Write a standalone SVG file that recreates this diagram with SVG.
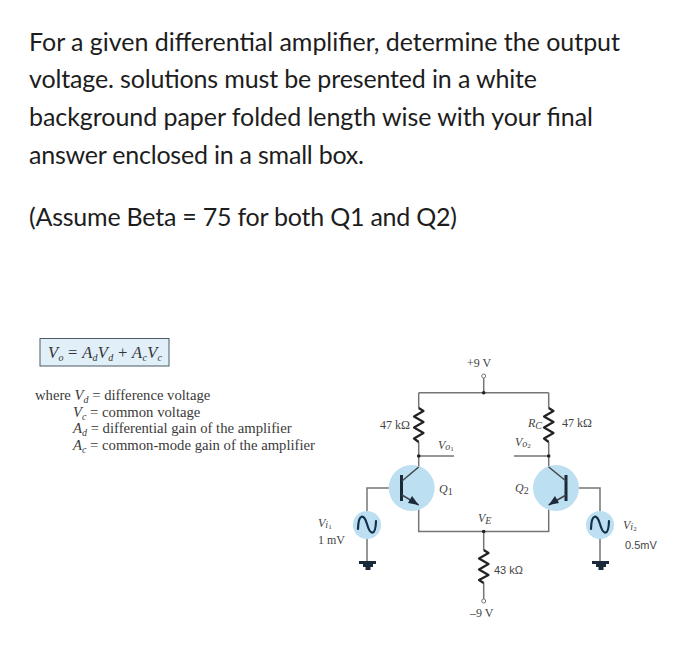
<svg xmlns="http://www.w3.org/2000/svg" width="700" height="663" viewBox="0 0 700 663">
<style>
.h{font-family:Lato,"Open Sans",sans-serif;font-size:25px;fill:#1d1d1d}
.s{font-family:"Liberation Serif",serif;font-size:14.7px;fill:#3a3a3a}
.f{font-family:"Liberation Serif",serif;font-size:16.5px;fill:#333}
.l{font-family:"Liberation Serif",serif;font-size:12px;fill:#444}
.i{font-style:italic}
.sub{font-size:10px}
.ss{font-size:7px}
.sans{font-family:"Liberation Sans",sans-serif;font-size:11px;fill:#444}
.w{fill:none;stroke:#757575;stroke-width:1.5}
.r{fill:none;stroke:#222;stroke-width:2.2;stroke-linejoin:round}
.b{fill:#bcdff2}
.bar{fill:#1b2a3a}
.t{fill:#fff;stroke:#777;stroke-width:1}
.d{fill:#222}
.sine{fill:none;stroke:#14304a;stroke-width:2.2;stroke-linecap:round}
</style>
<rect width="700" height="663" fill="#fff"/>
<g id="question">
<text class="h" x="29" y="51" textLength="591" lengthAdjust="spacing">For a given differential amplifier, determine the output</text>
<text class="h" x="29" y="88" textLength="508" lengthAdjust="spacing">voltage. solutions must be presented in a white</text>
<text class="h" x="29" y="126" textLength="564" lengthAdjust="spacing">background paper folded length wise with your final</text>
<text class="h" x="29" y="164" textLength="335" lengthAdjust="spacing">answer enclosed in a small box.</text>
<text class="h" x="29" y="226" textLength="428" lengthAdjust="spacing">(Assume Beta = 75 for both Q1 and Q2)</text>
</g>
<g id="formula">
<rect x="40" y="338.500" width="129" height="27.500" fill="#e0eff8" stroke="#4a5a66" stroke-width="1"/>
<text class="f" x="48" y="358" textLength="114" lengthAdjust="spacing"><tspan class="i">V</tspan><tspan class="i sub" dy="3">o</tspan><tspan dy="-3"> = </tspan><tspan class="i">A</tspan><tspan class="i sub" dy="3">d</tspan><tspan class="i" dy="-3">V</tspan><tspan class="i sub" dy="3">d</tspan><tspan dy="-3"> + </tspan><tspan class="i">A</tspan><tspan class="i sub" dy="3">c</tspan><tspan class="i" dy="-3">V</tspan><tspan class="i sub" dy="3">c</tspan></text>
</g>
<g id="definitions">
<text class="s" x="35" y="400">where <tspan class="i">V</tspan><tspan class="i sub" dy="3">d</tspan><tspan dy="-3"> = difference voltage</tspan></text>
<text class="s" x="73" y="417"><tspan class="i">V</tspan><tspan class="i sub" dy="3">c</tspan><tspan dy="-3"> = common voltage</tspan></text>
<text class="s" x="73" y="433"><tspan class="i">A</tspan><tspan class="i sub" dy="3">d</tspan><tspan dy="-3"> = differential gain of the amplifier</tspan></text>
<text class="s" x="73" y="450"><tspan class="i">A</tspan><tspan class="i sub" dy="3">c</tspan><tspan dy="-3"> = common-mode gain of the amplifier</tspan></text>
</g>
<g id="connectors">
<path class="w" d="M483.700 378V392.700M418.700 392.700H548.700M418.700 392.700V408M548.700 392.700V408M418.700 442V467M548.700 442V467M418.700 456H454M548.700 456H514"/>
<path class="w" d="M418.700 505V531.500H548.700V505M483.700 531.500V550M483.700 583V599"/>
<path class="w" d="M401 488H367V511M367 539V562M566 488H600V511M600 539V562"/>
</g>
<g id="q1">
<circle class="b" cx="411.700" cy="488" r="23"/>
<rect class="bar" x="400" y="475" width="3" height="26"/>
<path d="M402 481L418.700 467" fill="none" stroke="#444" stroke-width="1.500"/>
<path d="M402 495L418.700 505" fill="none" stroke="#444" stroke-width="1.500"/>
<path class="bar" d="M418.700 505L408 503L412 496Z"/>
<text class="l i" x="439" y="493">Q<tspan class="sub" dy="2" font-style="normal">1</tspan></text>
</g>
<g id="q2">
<circle class="b" cx="556" cy="488" r="23"/>
<rect class="bar" x="564.500" y="475" width="3" height="26"/>
<path d="M566 481L548.700 467" fill="none" stroke="#444" stroke-width="1.500"/>
<path d="M566 495L548.700 505" fill="none" stroke="#444" stroke-width="1.500"/>
<path class="bar" d="M548.700 505L559 503L555 496Z"/>
<text class="l i" x="515" y="492">Q<tspan class="sub" dy="2" font-style="normal">2</tspan></text>
</g>
<g id="r1">
<path class="r" d="M418.700 408L423.500 411L414 416.500L423.500 422L414 427.500L423.500 433L414 438.500L418.700 442"/>
<text class="l" x="380" y="429">47 kΩ</text>
</g>
<g id="r2">
<path class="r" d="M548.700 408L553.500 411L544 416.500L553.500 422L544 427.500L553.500 433L544 438.500L548.700 442"/>
<text class="l i" x="528" y="427">R<tspan class="sub" dy="2">C</tspan></text>
<text class="l" x="562" y="427">47 kΩ</text>
</g>
<g id="re">
<path class="r" d="M483.700 550L488.500 553L479 558.500L488.500 564L479 569.500L488.500 575L479 580L483.700 583"/>
<text class="sans" x="494" y="574">43 kΩ</text>
</g>
<g id="vcc">
<circle class="t" cx="483.700" cy="376" r="2"/>
<circle class="d" cx="483.700" cy="392.700" r="1.800"/>
<text class="l" x="467" y="367">+9 V</text>
</g>
<g id="vee">
<circle class="t" cx="483.700" cy="601" r="2"/>
<circle class="d" cx="483.700" cy="531.500" r="1.800"/>
<text class="l" x="470" y="617">–9 V</text>
<text class="l i" x="478" y="522">V<tspan class="sub" dy="2">E</tspan></text>
</g>
<g id="vo1">
<circle class="d" cx="418.700" cy="456" r="1.800"/>
<text class="l i" x="438" y="449">V<tspan class="sub" dy="1">o</tspan><tspan class="ss" dy="1" font-style="normal">1</tspan></text>
</g>
<g id="vo2">
<circle class="d" cx="548.700" cy="456" r="1.800"/>
<text class="l i" x="515" y="446">V<tspan class="sub" dy="1">o</tspan><tspan class="ss" dy="1" font-style="normal">2</tspan></text>
</g>
<g id="vi1">
<circle class="b" cx="367" cy="525" r="14"/>
<path class="sine" d="M358 529C358.500 513 364 514 367 524C370 535 375.500 537 376 521"/>
<path class="bar" d="M359 561H376V564H373V567H370.500V570H365.500V567H363V564H359Z"/>
<text class="l i" x="318" y="527">V<tspan class="sub" dy="1">i</tspan><tspan class="ss" dy="1" font-style="normal">1</tspan></text>
<text class="l" x="318" y="544">1 mV</text>
</g>
<g id="vi2">
<circle class="b" cx="600" cy="525" r="14"/>
<path class="sine" d="M591 529C591.500 513 597 514 600 524C603 535 608.500 537 609 521"/>
<path class="bar" d="M592 561H609V564H606V567H603.500V570H598.500V567H596V564H592Z"/>
<text class="l i" x="623" y="529">V<tspan class="sub" dy="1">i</tspan><tspan class="ss" dy="1" font-style="normal">2</tspan></text>
<text class="sans" x="625" y="549">0.5mV</text>
</g>
</svg>
